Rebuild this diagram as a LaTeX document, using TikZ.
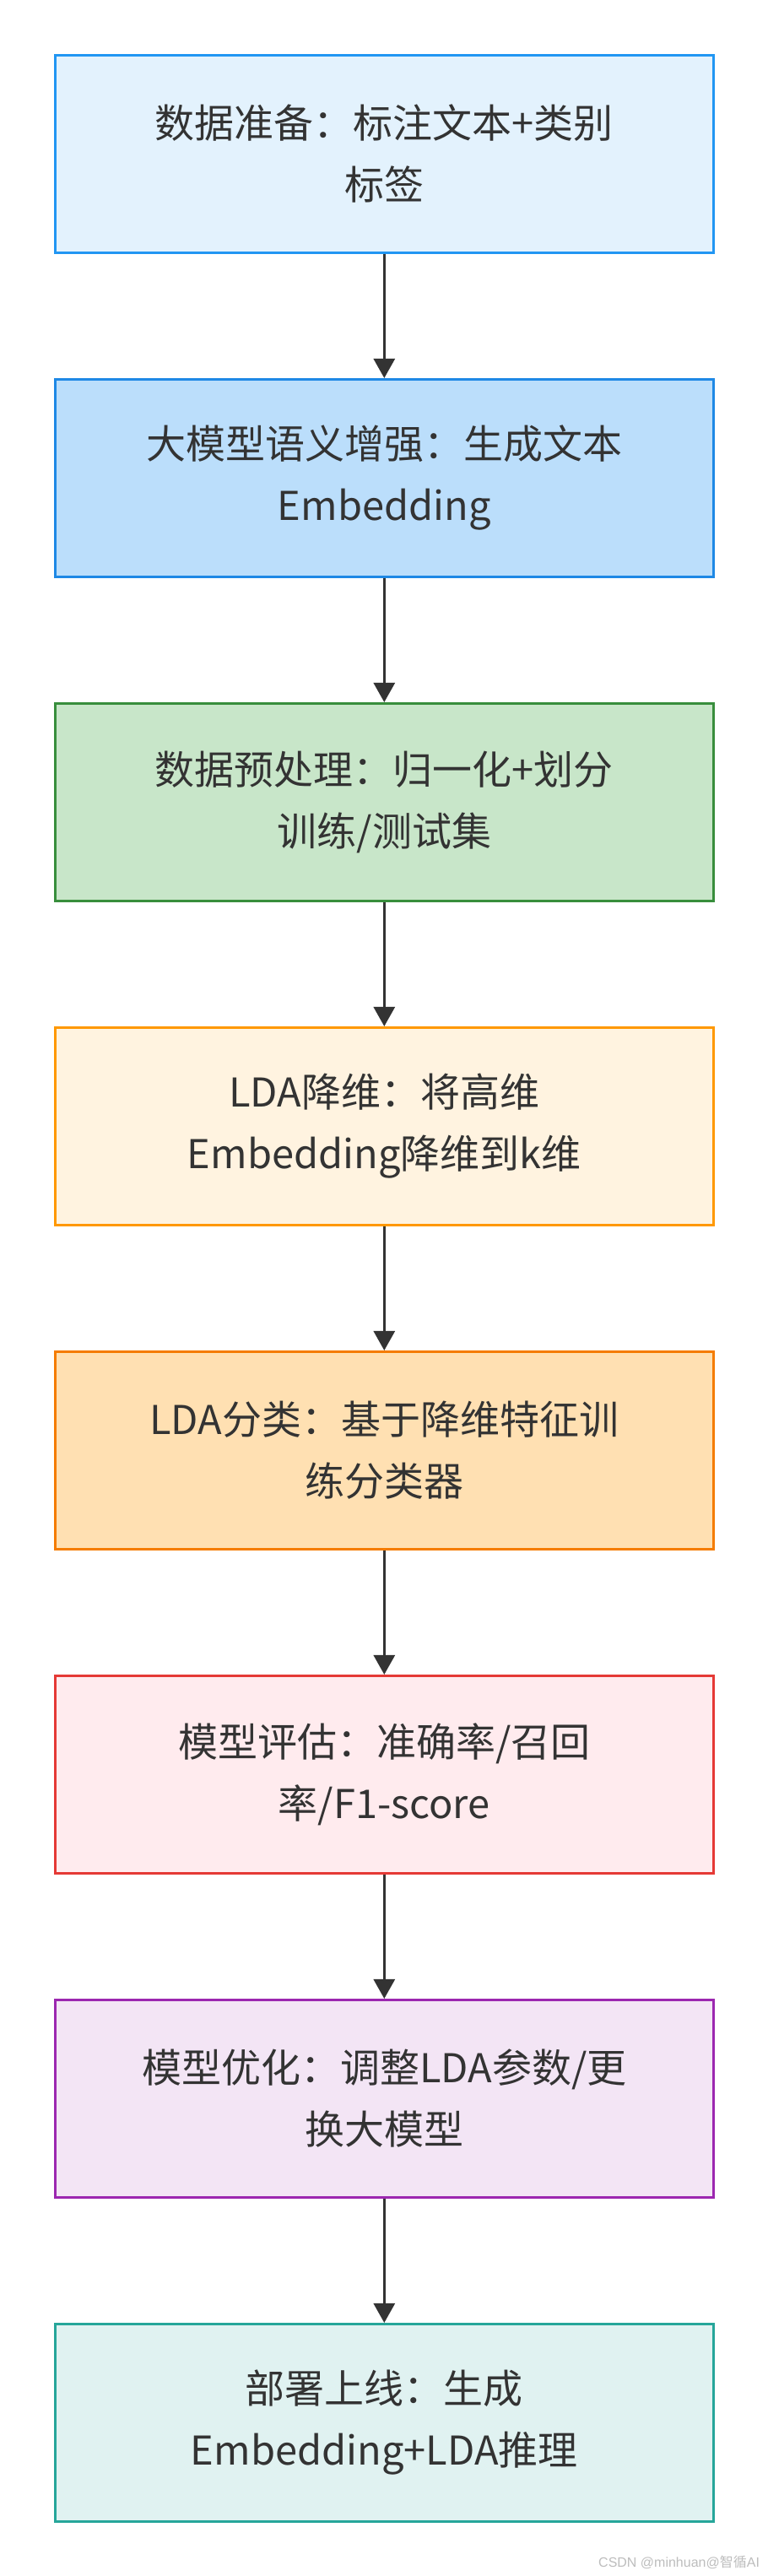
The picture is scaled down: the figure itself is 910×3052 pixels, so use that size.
\documentclass[tikz,border=0pt]{standalone}
\usepackage{fontspec}
\setmainfont{Noto Sans CJK SC}
\newfontfamily\wmfont{Liberation Sans}
\newfontfamily\cjkfont{Noto Sans CJK SC}
\usetikzlibrary{arrows.meta}
\definecolor{txt}{HTML}{333333}
\definecolor{fA}{HTML}{E3F2FD}\definecolor{sA}{HTML}{2196F3}
\definecolor{fB}{HTML}{BBDEFB}\definecolor{sB}{HTML}{1E88E5}
\definecolor{fC}{HTML}{C8E6C9}\definecolor{sC}{HTML}{388E3C}
\definecolor{fD}{HTML}{FFF3E0}\definecolor{sD}{HTML}{FF9800}
\definecolor{fE}{HTML}{FFE0B2}\definecolor{sE}{HTML}{F57C00}
\definecolor{fF}{HTML}{FFEBEE}\definecolor{sF}{HTML}{E53935}
\definecolor{fG}{HTML}{F3E5F5}\definecolor{sG}{HTML}{9C27B0}
\definecolor{fH}{HTML}{E0F2F1}\definecolor{sH}{HTML}{26A69A}
\definecolor{wm}{HTML}{BDBDBD}
\tikzset{
  stagebox/.style 2 args={draw=#2, fill=#1, line width=2.7pt, rectangle,
    minimum width=780pt, minimum height=234pt, inner sep=0pt, align=center,
    text=txt, font=\fontsize{47pt}{73pt}\selectfont},
  flowarrow/.style={draw=txt, line width=3pt,
    -{Triangle[length=23pt,width=25pt]}}
}
\begin{document}
\begin{tikzpicture}[x=1pt,y=-1pt]
\useasboundingbox (0,0) rectangle (910,3052);
\fill[white] (0,0) rectangle (910,3052);
\node[stagebox={fA}{sA}] (n1) at (455.3,182.3) {数据准备：标注文本+类别\\标签};
\node[stagebox={fB}{sB}] (n2) at (455.3,566.3) {大模型语义增强：生成文本\\Embedding};
\node[stagebox={fC}{sC}] (n3) at (455.3,950.3) {数据预处理：归一化+划分\\训练/测试集};
\node[stagebox={fD}{sD}] (n4) at (455.3,1334.3) {LDA降维：将高维\\Embedding降维到k维};
\node[stagebox={fE}{sE}] (n5) at (455.3,1718.3) {LDA分类：基于降维特征训\\练分类器};
\node[stagebox={fF}{sF}] (n6) at (455.3,2102.3) {模型评估：准确率/召回\\率/F1-score};
\node[stagebox={fG}{sG}] (n7) at (455.3,2486.3) {模型优化：调整LDA参数/更\\换大模型};
\node[stagebox={fH}{sH}] (n8) at (455.3,2870.3) {部署上线：生成\\Embedding+LDA推理};
\foreach \a/\b in {n1/n2,n2/n3,n3/n4,n4/n5,n5/n6,n6/n7,n7/n8}
  \draw[flowarrow] (\a.south) -- (\b.north);
\node[anchor=base west, inner sep=0pt, text=wm, font=\fontsize{16pt}{18pt}\selectfont] (wmark) at (709,3041)
  {\wmfont CSDN @minhuan@\cjkfont 智循\wmfont AI};
\end{tikzpicture}
\end{document}
